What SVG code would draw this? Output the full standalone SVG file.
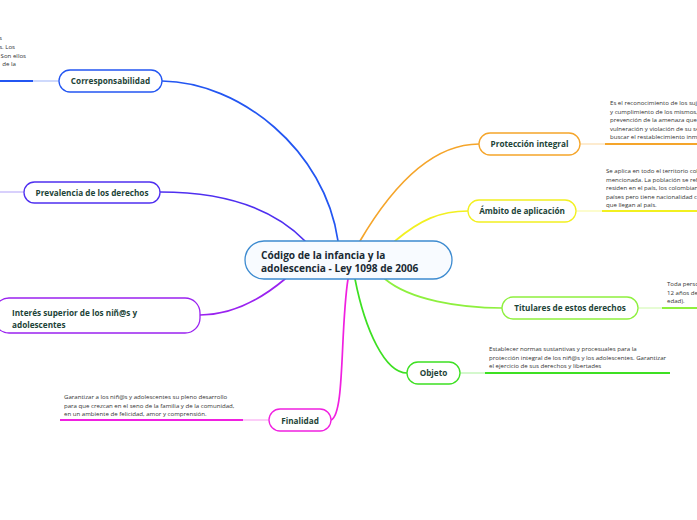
<svg xmlns="http://www.w3.org/2000/svg" width="697" height="520" viewBox="0 0 697 520">
<style>
.node{fill:#ffffff;stroke-width:1.3}
.lbl{font-family:"Open Sans","Liberation Sans",sans-serif;font-weight:bold;font-size:8.2px;fill:#1d4438;text-anchor:middle}
.desc{font-family:"Open Sans","Liberation Sans",sans-serif;font-size:6.1px;fill:#333333}
.conn{fill:none;stroke-width:1.7;stroke-linecap:round}
.thin{fill:none;stroke-width:1;opacity:0.45}
.under{fill:none;stroke-width:2}
</style>
<rect width="697" height="520" fill="#ffffff"/>
<g id="connectors">
  <path class="conn" stroke="#2356f2" d="M338,241 C325,150 240,82 162,81"/>
  <path class="conn" stroke="#4f2ff0" d="M305,241 C270,205 220,192 160,192"/>
  <path class="conn" stroke="#9a22f0" d="M285,279 C260,300 230,315 200,315"/>
  <path class="conn" stroke="#f020e0" d="M348,279 C340,330 345,415 331,420"/>
  <path class="conn" stroke="#3de022" d="M355,279 C365,330 385,373 407,373"/>
  <path class="conn" stroke="#8ef03e" d="M385,279 C410,300 460,308 502,308"/>
  <path class="conn" stroke="#f2f020" d="M395,241 C420,220 440,211 468,211"/>
  <path class="conn" stroke="#f5a52a" d="M360,241 C390,190 430,144 479,144"/>
  <line class="thin" stroke="#2356f2" x1="33" y1="81" x2="59" y2="81"/>
  <line class="under" stroke="#2356f2" x1="0" y1="81" x2="33" y2="81"/>
  <line class="thin" stroke="#4f2ff0" x1="0" y1="192" x2="24" y2="192"/>
  <line class="thin" stroke="#f020e0" x1="243" y1="420" x2="269" y2="420"/>
  <line class="under" stroke="#f020e0" x1="60" y1="420" x2="243" y2="420"/>
  <line class="thin" stroke="#3de022" x1="460" y1="373" x2="485" y2="373"/>
  <line class="under" stroke="#3de022" x1="485" y1="373" x2="670" y2="373"/>
  <line class="thin" stroke="#8ef03e" x1="638" y1="308" x2="662" y2="308"/>
  <line class="under" stroke="#8ef03e" x1="662" y1="308" x2="697" y2="308"/>
  <line class="thin" stroke="#f2f020" x1="576" y1="211" x2="602" y2="211"/>
  <line class="under" stroke="#f2f020" x1="602" y1="211" x2="697" y2="211"/>
  <line class="thin" stroke="#f5a52a" x1="580" y1="144" x2="605" y2="144"/>
  <line class="under" stroke="#f5a52a" x1="605" y1="144" x2="697" y2="144"/>
</g>
<g id="central">
  <rect x="245" y="241" width="207" height="38" rx="19" fill="#f8fbff" stroke="#3d8bd0" stroke-width="1.3"/>
  <text font-family="'Open Sans','Liberation Sans',sans-serif" font-weight="bold" font-size="10.1" fill="#1a2a33"><tspan x="261" y="259">Código de la infancia y la</tspan><tspan x="261" y="272">adolescencia - Ley 1098 de 2006</tspan></text>
</g>
<g id="corresponsabilidad">
  <rect class="node" x="59" y="70" width="103" height="22" rx="11" stroke="#2356f2"/>
  <text class="lbl" x="110.5" y="84">Corresponsabilidad</text>
  <text class="desc" text-anchor="end"><tspan x="2" y="40">s</tspan><tspan x="15" y="49">s. Los</tspan><tspan x="26" y="58">. Son ellos</tspan><tspan x="16" y="66">de la</tspan></text>
</g>
<g id="prevalencia">
  <rect class="node" x="24" y="182" width="136" height="21" rx="10.5" stroke="#4f2ff0"/>
  <text class="lbl" x="92" y="195.5">Prevalencia de los derechos</text>
</g>
<g id="interes">
  <rect class="node" x="-6" y="298" width="206" height="35" rx="15" stroke="#9a22f0"/>
  <text class="lbl" style="text-anchor:start"><tspan x="12" y="316">Interés superior de los niñ@s y</tspan><tspan x="12" y="328">adolescentes</tspan></text>
</g>
<g id="finalidad">
  <rect class="node" x="269" y="409" width="62" height="22" rx="11" stroke="#f020e0"/>
  <text class="lbl" x="300" y="424">Finalidad</text>
  <text class="desc"><tspan x="64" y="399">Garantizar a los niñ@s y adolescentes su pleno desarrollo</tspan><tspan x="64" y="407.5">para que crezcan en el seno de la familia y de la comunidad,</tspan><tspan x="64" y="416">en un ambiente de felicidad, amor y comprensión.</tspan></text>
</g>
<g id="objeto">
  <rect class="node" x="407" y="362" width="53" height="22" rx="11" stroke="#3de022"/>
  <text class="lbl" x="433.5" y="376">Objeto</text>
  <text class="desc"><tspan x="489" y="351">Establecer normas sustantivas y procesuales para la</tspan><tspan x="489" y="359.5">protección integral de los niñ@s y los adolescentes. Garantizar</tspan><tspan x="489" y="368">el ejercicio de sus derechos y libertades</tspan></text>
</g>
<g id="titulares">
  <rect class="node" x="502" y="297" width="136" height="22" rx="11" stroke="#8ef03e"/>
  <text class="lbl" x="570" y="311">Titulares de estos derechos</text>
  <text class="desc"><tspan x="667" y="286">Toda perso</tspan><tspan x="667" y="294.5">12 años de</tspan><tspan x="667" y="303">edad).</tspan></text>
</g>
<g id="ambito">
  <rect class="node" x="468" y="200" width="108" height="22" rx="11" stroke="#f2f020"/>
  <text class="lbl" x="522" y="214">Ámbito de aplicación</text>
  <text class="desc"><tspan x="606" y="173">Se aplica en todo el territorio col</tspan><tspan x="606" y="181.5">mencionada. La población se refi</tspan><tspan x="606" y="190">residen en el país, los colombian</tspan><tspan x="606" y="198.5">países pero tiene nacionalidad c</tspan><tspan x="606" y="207">que llegan al país.</tspan></text>
</g>
<g id="proteccion">
  <rect class="node" x="479" y="133" width="101" height="22" rx="11" stroke="#f5a52a"/>
  <text class="lbl" x="529.5" y="147">Protección integral</text>
  <text class="desc"><tspan x="610" y="105">Es el reconocimiento de los suje</tspan><tspan x="610" y="113.5">y cumplimiento de los mismos,</tspan><tspan x="610" y="122">prevención de la amenaza que</tspan><tspan x="610" y="130.5">vulneración y violación de su se</tspan><tspan x="610" y="139">buscar el restablecimiento inme</tspan></text>
</g>
</svg>
